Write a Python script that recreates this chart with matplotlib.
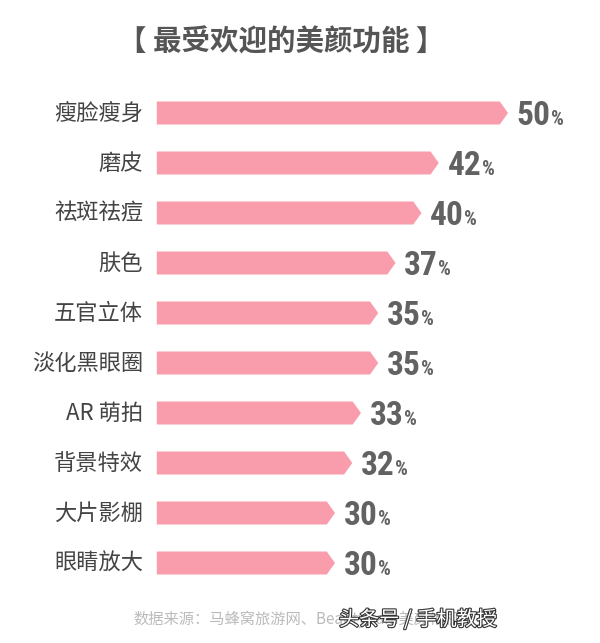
import matplotlib
matplotlib.use("Agg")
import matplotlib.pyplot as plt
from matplotlib.patches import Polygon
import matplotlib.patheffects as pe

plt.rcParams['font.family'] = ['Noto Sans CJK SC', 'DejaVu Sans']

categories = ["瘦脸瘦身", "磨皮", "祛斑祛痘", "肤色", "五官立体", "淡化黑眼圈",
              "AR 萌拍", "背景特效", "大片影棚", "眼睛放大"]
values = [50, 42, 40, 37, 35, 35, 33, 32, 30, 30]
title = "【 最受欢迎的美颜功能 】"
source = "数据来源：马蜂窝旅游网、BeautyCam美颜相机"
watermark = "头条号 / 手机教授"

DPI = 100
fig = plt.figure(figsize=(6.0, 6.43), dpi=DPI)
ax = fig.add_axes([0, 0, 1, 1])
ax.set_xlim(-8.73, 60.64)
ax.set_ylim(10.6, -2.26)
ax.axis('off')

bar_start = 9.4
half_h = 0.23
tip = 0.95
bar_color = '#F99DAD'
num_color = '#626262'
num_family = ['Roboto Condensed', 'Liberation Sans Narrow', 'Roboto', 'DejaVu Sans']

for i, v in enumerate(values):
    body_end = v - tip
    poly = Polygon([(bar_start, i - half_h), (body_end, i - half_h), (v, i),
                    (body_end, i + half_h), (bar_start, i + half_h)],
                   closed=True, facecolor=bar_color, edgecolor='none')
    ax.add_patch(poly)
    ax.text(7.8, i, categories[i], ha='right', va='center', fontsize=16,
            color='#444444')
    t = ax.text(v + 1.0, i + 0.24, f"{v}", ha='left', va='baseline',
                fontsize=24, fontweight='bold', color=num_color,
                family=num_family, fontstretch='condensed')
    ax.annotate('%', xy=(1, 0), xycoords=t, xytext=(0.3, 2.2),
                textcoords='offset points', ha='left', va='bottom',
                fontsize=14.5, fontweight='bold', color=num_color,
                family=num_family, fontstretch='condensed')

fig.text(0.468, 1 - 42 / 643, title, ha='center', va='center', fontsize=20.5,
         color='#555555', fontweight='bold')
fig.text(0.222, 1 - 619 / 643, source, ha='left', va='center', fontsize=11,
         color='#BBBBBB')
fig.text(0.565, 1 - 620 / 643, watermark, ha='left', va='center', fontsize=14.5,
         color='white',
         path_effects=[pe.withStroke(linewidth=1.6, foreground='#333333')])

fig.savefig('out.png', dpi=DPI, facecolor='white')
